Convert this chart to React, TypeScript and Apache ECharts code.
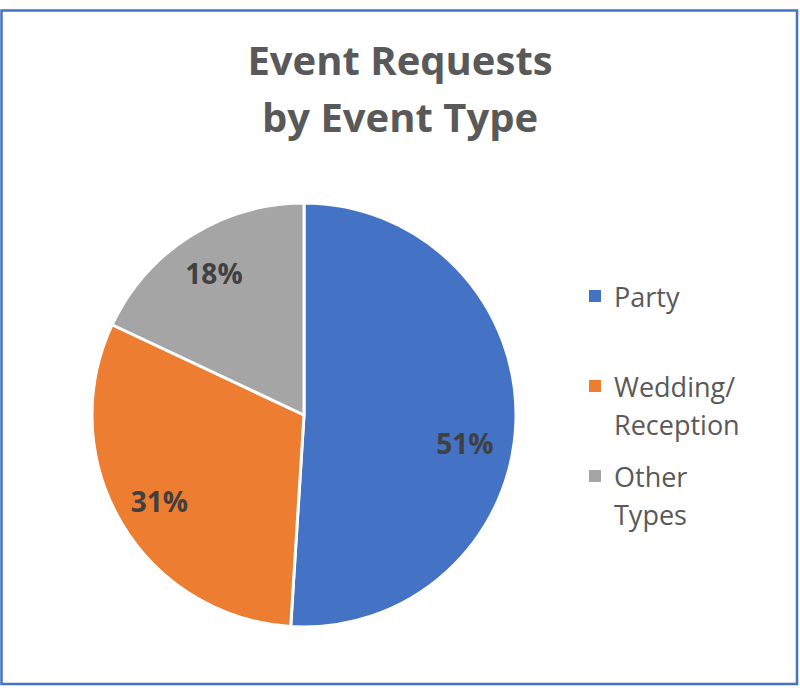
import React, { useEffect, useRef } from "react";
import * as echarts from "echarts";

const categories = ["Party", "Wedding/\nReception", "Other\nTypes"];
const values = [51, 31, 18];
const colors = ["#4472C4", "#ED7D31", "#A5A5A5"];
const titleText = "Event Requests\nby Event Type";

export default function App() {
  const ref = useRef<HTMLDivElement>(null);
  useEffect(() => {
    if (!ref.current) return;
    const chart = echarts.init(ref.current, undefined, { renderer: "svg" });
    const font = "'Open Sans', 'Noto Sans', sans-serif";
    const data = categories.map((name, i) => ({
      name,
      value: values[i],
      itemStyle: { color: colors[i] },
    }));
    const legendTops = [277, 329, 419];
    const legends = categories.map((name, i) => ({
      data: [name],
      orient: "vertical",
      left: 587,
      top: legendTops[i],
      padding: 0,
      icon: "rect",
      itemWidth: 14,
      itemHeight: 14,
      selectedMode: false,
      formatter: (n: string) => (n.includes("\n") ? "\n" + n : n),
      textStyle: {
        fontFamily: font,
        fontSize: 27,
        color: "#595959",
        lineHeight: 38,
        padding: [0, 0, 0, 7],
      },
    }));
    chart.setOption({
      animation: false,
      backgroundColor: "#ffffff",
      title: {
        text: titleText,
        left: "center",
        top: 26,
        textStyle: {
          fontFamily: font,
          fontSize: 40,
          fontWeight: "bold",
          color: "#595959",
          lineHeight: 57,
        },
      },
      legend: legends,
      graphic: [
        {
          type: "rect",
          shape: { x: 1.5, y: 10.5, width: 795.5, height: 673.5 },
          style: { fill: "none", stroke: "#4472C4", lineWidth: 2.5 },
          silent: true,
        },
      ],
      series: [
        {
          type: "pie",
          center: [304, 415],
          radius: [0, 212],
          startAngle: 90,
          clockwise: true,
          silent: true,
          label: { show: false },
          labelLine: { show: false },
          itemStyle: { borderColor: "#ffffff", borderWidth: 3 },
          data,
        },
        {
          type: "pie",
          center: [304, 415],
          radius: [125, 205],
          startAngle: 90,
          clockwise: true,
          silent: true,
          legendHoverLink: false,
          itemStyle: { color: "rgba(0,0,0,0)" },
          label: {
            show: true,
            position: "inside",
            formatter: (p: any) =>
              p.dataIndex === 0
                ? "\n" + p.value + "%\u2002"
                : p.value + "%",
            fontFamily: font,
            fontSize: 28,
            fontWeight: "bold",
            color: "#404040",
            lineHeight: 46,
          },
          labelLine: { show: false },
          data: categories.map((name, i) => ({
            name,
            value: values[i],
            itemStyle: { color: "rgba(0,0,0,0)" },
          })),
        },
      ],
    });
    return () => chart.dispose();
  }, []);
  return (
    <div
      ref={ref}
      style={{ position: "fixed", left: 0, top: 0, width: 800, height: 694 }}
    />
  );
}
